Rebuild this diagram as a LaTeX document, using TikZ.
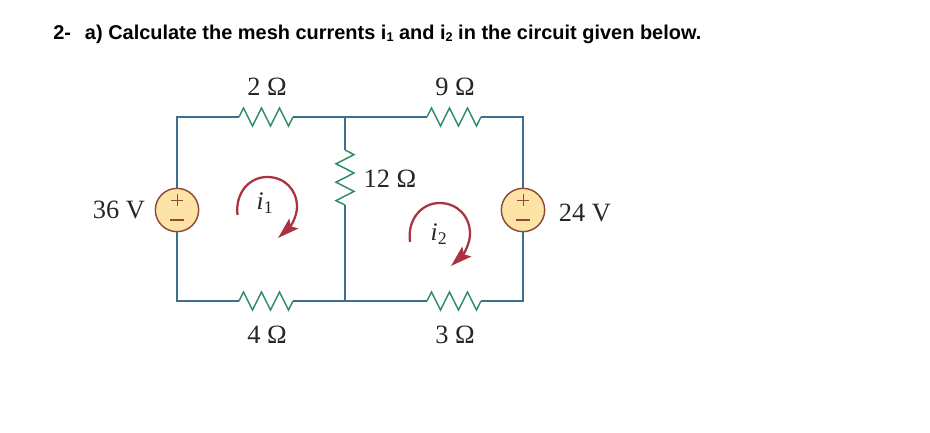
\documentclass[tikz,border=0pt]{standalone}
\usepackage{fontspec}
\setmainfont{Liberation Serif}
\newfontfamily\titlefont{Liberation Sans}
\usetikzlibrary{arrows.meta}
\definecolor{wirec}{HTML}{3F6F8F}
\definecolor{resc}{HTML}{2F8A68}
\definecolor{srcfill}{HTML}{FDE4A6}
\definecolor{srcline}{HTML}{8E4B38}
\definecolor{arcc}{HTML}{A93340}
\definecolor{txtc}{HTML}{262626}
\newcommand{\subdigit}[1]{\raisebox{-2pt}{\fontsize{9.5}{10}\selectfont #1}}
\tikzset{
  x=0.75pt,y=-0.75pt,
  wire/.style={draw=wirec,line width=1pt},
  zig/.style={draw=resc,line width=1.1pt,line join=miter},
  src/.style={circle,draw=srcline,fill=srcfill,line width=1.1pt,minimum size=32.5pt,inner sep=0pt},
  val/.style={font=\fontsize{19.8}{22}\selectfont,text=txtc,inner sep=0pt},
  cur/.style={font=\fontsize{19}{22}\selectfont\itshape,text=txtc,inner sep=0pt},
  mesh/.style={draw=arcc,line width=1.7pt,-{Stealth[length=16pt,width=10pt,inset=3pt]}},
  plussign/.style={draw=srcline,line width=0.7pt},
  minussign/.style={draw=srcline,line width=1pt}
}
\begin{document}
\begin{tikzpicture}
\useasboundingbox (0,0) rectangle (930,432);
% junctions and corners
\coordinate (tl) at (177,117);
\coordinate (tm) at (345,117);
\coordinate (tr) at (523,117);
\coordinate (bl) at (177,301);
\coordinate (bm) at (345,301);
\coordinate (br) at (523,301);
% voltage sources
\node[src] (v1) at (177,210) {};
\node[src] (v2) at (523,210) {};
% resistor ends
\coordinate (r1a) at (239,117); \coordinate (r1b) at (293,117);
\coordinate (r2a) at (427,117); \coordinate (r2b) at (481,117);
\coordinate (r3a) at (345,150); \coordinate (r3b) at (345,205);
\coordinate (r4a) at (239,301); \coordinate (r4b) at (293,301);
\coordinate (r5a) at (427,301); \coordinate (r5b) at (481,301);
% wires
\draw[wire] (v1.north) -- (tl) -- (r1a);
\draw[wire] (r1b) -- (tm) -- (r2a);
\draw[wire] (r2b) -- (tr) -- (v2.north);
\draw[wire] (v2.south) -- (br) -- (r5b);
\draw[wire] (r5a) -- (bm) -- (r4b);
\draw[wire] (r4a) -- (bl) -- (v1.south);
\draw[wire] (tm) -- (r3a);
\draw[wire] (r3b) -- (bm);
% resistors
\foreach \n in {r1a,r2a,r4a,r5a}{
  \draw[zig] (\n) -- ++(4.5,-9) -- ++(9,18) -- ++(9,-18) -- ++(9,18) -- ++(9,-18) -- ++(9,18) -- ++(4.5,-9);
}
\draw[zig] (r3a) -- ++(9,4.6) -- ++(-18,9.2) -- ++(18,9.2) -- ++(-18,9.2) -- ++(18,9.2) -- ++(-18,9.2) -- ++(9,4.4);
% source signs
\draw[plussign] (171,200) -- (183,200) (177,194) -- (177,206);
\draw[minussign] (170,220) -- (184,220);
\draw[plussign] (517,200) -- (529,200) (523,194) -- (523,206);
\draw[minussign] (516,220) -- (530,220);
% mesh currents
\draw[mesh] (237.5,215) .. controls (235,192) and (250,177) .. (267,177) .. controls (285,177) and (297,190) .. (297,207) .. controls (297,217) and (290,227) .. (278,238);
\draw[mesh] (410,242) .. controls (407,219) and (422,203) .. (439.5,203) .. controls (457,203) and (470,216) .. (470,234) .. controls (470,244) and (463,255) .. (451,266);
% labels
\node[val] (l2) at (267,87) {2 Ω};
\node[val] (l9) at (455,87) {9 Ω};
\node[val] (l12) at (390,179) {12 Ω};
\node[val] (l4) at (267,335) {4 Ω};
\node[val] (l3) at (455,335) {3 Ω};
\node[val] (l36) at (119,210) {36 V};
\node[val] (l24) at (585,213) {24 V};
\node[cur] (c1) at (265,203) {i\textsubscript{\upshape 1}};
\node[cur] (c2) at (439,234) {i\textsubscript{\upshape 2}};
\node[anchor=west,inner sep=0pt,font=\titlefont\bfseries\fontsize{14.96}{17}\selectfont] (title) at (53,34)
  {2-\hspace{10.5pt}a) Calculate the mesh currents i\subdigit{1} and i\subdigit{2} in the circuit given below.};
\end{tikzpicture}
\end{document}
